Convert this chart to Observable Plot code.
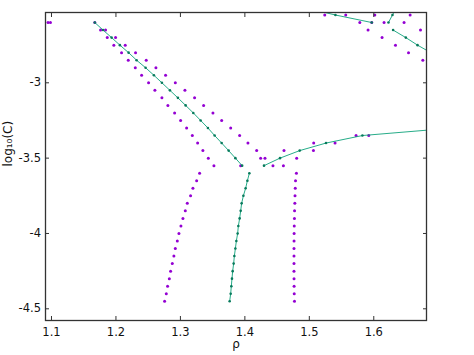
<!DOCTYPE html>
<html><head><meta charset="utf-8">
<script src="https://cdn.jsdelivr.net/npm/d3@7"></script>
<script src="https://cdn.jsdelivr.net/npm/@observablehq/plot@0.6"></script>
<style>
html,body{margin:0;padding:0;background:#fff;}
</style></head><body><div id="chart"></div>
<script>
// ---- axes ----
const xTicks = [1.1, 1.2, 1.3, 1.4, 1.5, 1.6];
const yTicks = [-4.5, -4, -3.5, -3];
const xDomain = [1.0907, 1.6818];
const yDomain = [-4.5776, -2.5334];

// ---- branch A (upper-left diagonal) ----
const levelsA = [-2.6, -2.65, -2.7, -2.75, -2.8, -2.85, -2.9, -2.95, -3.0, -3.05, -3.1, -3.15, -3.2, -3.25, -3.3, -3.35, -3.4, -3.45, -3.5, -3.55];
const greenA = [1.1672, 1.1800, 1.1932, 1.2061, 1.2196, 1.2320, 1.2460, 1.2589, 1.2713, 1.2837, 1.2961, 1.3081, 1.3200, 1.3314, 1.3427, 1.3531, 1.3640, 1.3748, 1.3853, 1.3958];
const leftA = [1.1672, 1.1761, 1.1865, 1.1967, 1.2087, 1.2191, 1.2300, 1.2398, 1.2506, 1.2604, 1.2713, 1.2806, 1.2910, 1.3003, 1.3096, 1.3185, 1.3267, 1.3349, 1.3433, 1.3520];
const rightA = [null, 1.1839, 1.1994, 1.2144, 1.2304, 1.2470, 1.2620, 1.2770, 1.2921, 1.3070, 1.3220, 1.3360, 1.3505, 1.3640, 1.3780, 1.3919, 1.4048, 1.4183, 1.4245, 1.3935];

// ---- branch B (lower vertical) ----
const levelsB = [-3.6, -3.65, -3.7, -3.75, -3.8, -3.85, -3.9, -3.95, -4.0, -4.05, -4.1, -4.15, -4.2, -4.25, -4.3, -4.35, -4.4, -4.45];
const greenB = [1.4070, 1.4039, 1.4012, 1.3977, 1.3950, 1.3935, 1.3919, 1.3899, 1.3888, 1.3868, 1.3853, 1.3837, 1.3826, 1.3811, 1.3800, 1.3790, 1.3780, 1.3764];
const leftB = [1.3298, 1.3252, 1.3194, 1.3158, 1.3107, 1.3076, 1.3039, 1.3008, 1.2977, 1.2952, 1.2921, 1.2899, 1.2874, 1.2848, 1.2828, 1.2801, 1.2781, 1.2755];
const rightB = [1.4800, 1.4786, 1.4782, 1.4778, 1.4775, 1.4771, 1.4769, 1.4766, 1.4764, 1.4763, 1.4762, 1.4762, 1.4762, 1.4762, 1.4763, 1.4764, 1.4766, 1.4770];

// ---- branch C (rising to the right) ----
const levelsC = [-3.55, -3.5, -3.45, -3.4, -3.35, -3.3];
const greenC = [1.4297, 1.4545, 1.4851, 1.5259, 1.5824, 1.7227];
const purpleCrho = [1.4436, 1.4598, 1.4312, 1.4804, 1.4607, 1.5064, 1.5068, 1.5399, 1.5725, 1.5922];
const purpleClog = [-3.55, -3.55, -3.5, -3.5, -3.45, -3.45, -3.4, -3.4, -3.35, -3.35];

// ---- top-right branches D, E, F ----
const levelsD = [-2.5, -2.55, -2.6];
const greenD = [1.4913, 1.5405, 1.5969];
const levelsE = [-2.6, -2.55, -2.5];
const greenE = [1.6228, 1.6290, 1.6354];
const levelsF = [-2.65, -2.7, -2.75, -2.8];
const greenF = [1.6300, 1.6497, 1.6679, 1.6885];
const purpleTRrho = [1.5239, 1.5565, 1.6016, 1.6564, 1.5783, 1.5969, 1.6160, 1.6470, 1.5911, 1.6725, 1.6129, 1.6337, 1.6539, 1.6761];
const purpleTRlog = [-2.55, -2.55, -2.55, -2.55, -2.6, -2.6, -2.6, -2.6, -2.65, -2.65, -2.7, -2.75, -2.8, -2.85];

// ---- far-left points ----
const purpleLrho = [1.0946, 1.0984];
const purpleLlog = [-2.6, -2.6];

// ---- build tables ----
const purple = [];
levelsA.forEach((v, i) => {
  purple.push({rho: leftA[i], logC: v});
  if (rightA[i] != null) purple.push({rho: rightA[i], logC: v});
});
levelsB.forEach((v, i) => {
  purple.push({rho: leftB[i], logC: v});
  purple.push({rho: rightB[i], logC: v});
});
purpleCrho.forEach((r, i) => purple.push({rho: r, logC: purpleClog[i]}));
purpleTRrho.forEach((r, i) => purple.push({rho: r, logC: purpleTRlog[i]}));
purpleLrho.forEach((r, i) => purple.push({rho: r, logC: purpleLlog[i]}));

const green = [];
const addG = (name, lv, xs) => lv.forEach((v, i) => green.push({branch: name, rho: xs[i], logC: v}));
addG("A", levelsA, greenA);
addG("B", levelsB, greenB);
addG("C", levelsC, greenC);
addG("D", levelsD, greenD);
addG("E", levelsE, greenE);
addG("F", levelsF, greenF);

const chart = Plot.plot({
  width: 474,
  height: 355,
  marginLeft: 45,
  marginRight: 48,
  marginTop: 12,
  marginBottom: 35,
  style: {fontFamily: "DejaVu Sans", fontSize: "11.5px", background: "white", color: "#222"},
  x: {domain: xDomain, label: null},
  y: {domain: yDomain, label: null},
  marks: [
    Plot.dot(purple, {x: "rho", y: "logC", r: 1.5, fill: "#9400d3", stroke: "none", clip: true}),
    Plot.line(green, {x: "rho", y: "logC", z: "branch", stroke: "#009e73", strokeWidth: 1, strokeOpacity: 0.85, clip: true}),
    Plot.dot(green, {x: "rho", y: "logC", r: 1.3, fill: "#087a5c", stroke: "none", clip: true}),
    Plot.frame({stroke: "#333", strokeWidth: 1.3}),
    Plot.axisX(xTicks, {anchor: "bottom", tickSize: -4, tickPadding: 11.3, tickFormat: d => String(d), label: null, stroke: "#333", fill: "#111"}),
    Plot.axisX(xTicks, {anchor: "top", tickSize: -4, fill: "none", label: null, stroke: "#333"}),
    Plot.axisY(yTicks, {anchor: "left", tickSize: -4, tickPadding: 8.5, tickFormat: d => String(d), label: null, stroke: "#333", fill: "#111"}),
    Plot.axisY(yTicks, {anchor: "right", tickSize: -4, fill: "none", label: null, stroke: "#333"}),
    Plot.text(["log₁₀(C)"], {frameAnchor: "left", dx: -37, rotate: -90, fill: "#111", fontSize: 12}),
    Plot.text(["ρ"], {frameAnchor: "bottom", dy: 27, fill: "#111", fontSize: 12})
  ]
});
document.getElementById("chart").appendChild(chart);
</script>
</body></html>
